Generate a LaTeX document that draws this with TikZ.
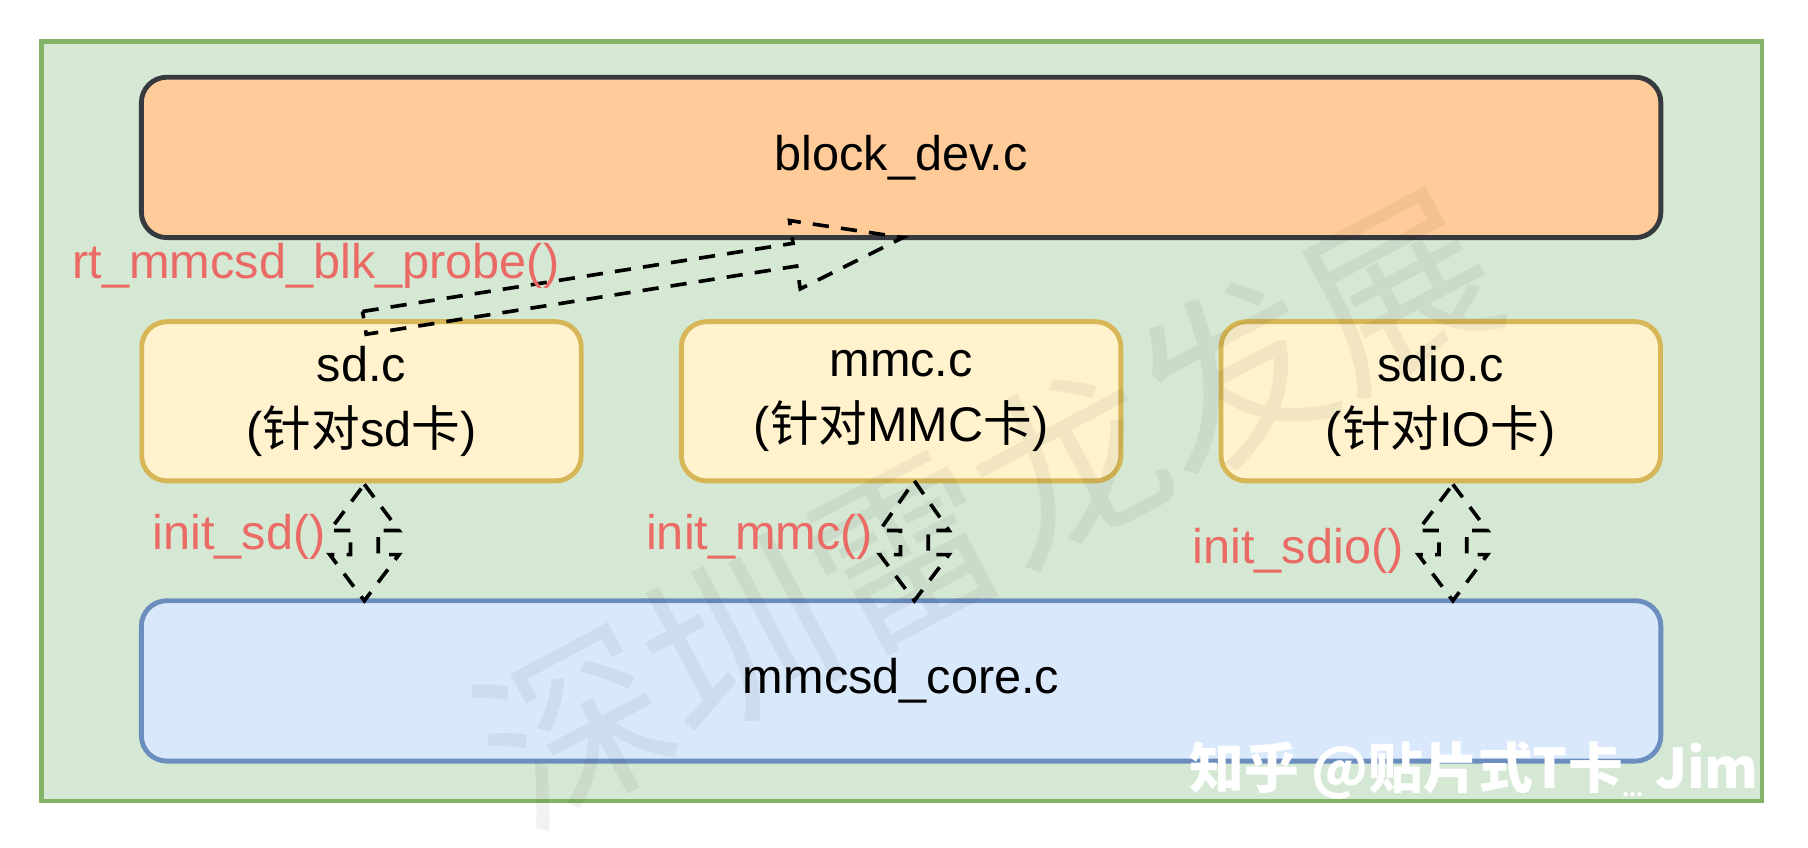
\documentclass[tikz,border=0pt]{standalone}
\usepackage{fontspec}
\setmainfont{Liberation Sans}
\newfontfamily\cjk{Noto Sans CJK SC}
\usetikzlibrary{positioning}
\definecolor{bggreen}{HTML}{D5E8D4}
\definecolor{lngreen}{HTML}{82B366}
\definecolor{orange1}{HTML}{FFCC99}
\definecolor{dark1}{HTML}{36393D}
\definecolor{yel1}{HTML}{FFF2CC}
\definecolor{yel2}{HTML}{D6B656}
\definecolor{blue1}{HTML}{DAE8FC}
\definecolor{blue2}{HTML}{6C8EBF}
\definecolor{red1}{HTML}{EA6B66}
\tikzset{
  box/.style={rectangle,rounded corners=2.2mm,line width=1.2pt,inner sep=0pt,
    font=\fontsize{12}{16}\selectfont,align=center},
  lbl/.style={text=red1,font=\fontsize{12}{14}\selectfont,inner sep=0pt},
  dashline/.style={line width=0.9pt,dash pattern=on 4pt off 3pt}
}
\begin{document}
\begin{tikzpicture}[x=0.01cm,y=-0.01cm]
\useasboundingbox (0,0) rectangle (1568,735);
\fill[white] (0,0) rectangle (1568,735);
%
\draw[fill=bggreen,draw=lngreen,line width=1pt] (36,36) rectangle (1528,695);
%
\node[box,fill=orange1,draw=dark1,minimum width=13.17cm,minimum height=1.39cm] (blk) at (781.5,136.5) {block\_dev.c};
\node[box,fill=yel1,draw=yel2,minimum width=3.81cm,minimum height=1.38cm] (sd) at (313.5,348) {sd.c\\({\cjk 针对}sd{\cjk 卡})};
\node[box,fill=yel1,draw=yel2,minimum width=3.81cm,minimum height=1.38cm] (mmc) at (781.5,348) {mmc.c\\({\cjk 针对}MMC{\cjk 卡})};
\node[box,fill=yel1,draw=yel2,minimum width=3.81cm,minimum height=1.38cm] (sdio) at (1249.5,348) {sdio.c\\({\cjk 针对}IO{\cjk 卡})};
\node[box,fill=blue1,draw=blue2,minimum width=13.17cm,minimum height=1.39cm] (core) at (781.5,590.5) {mmcsd\_core.c};
%
% watermark
\node[text=black,opacity=0.05,font=\cjk\fontsize{46}{46}\selectfont,rotate=28] (wm) at (855,440) {深圳雷龙发展};
\node[text=white,font=\cjk\bfseries\fontsize{13.5}{14}\selectfont,anchor=east,inner sep=0pt] (zh) at (1526,668) {知乎 @贴片式T卡\rlap{\raisebox{-2pt}{\tiny ...}}\hspace{8pt}Jim};
%
% probe arrow
\begin{scope}[shift={(316,280)},rotate=9]
\draw[dashline] (0,-10) -- (378,-10) -- (378,-30) -- (473,0) -- (378,30) -- (378,10) -- (0,10) -- cycle;
\end{scope}
\node[lbl] (probe) at (274,231) {rt\_mmcsd\_blk\_probe()};
%
% init arrows
\foreach \x/\ya in {316/420,793/417,1260/420}{
\draw[dashline] (\x,\ya) -- (\x+30,460) -- (\x+12,460) -- (\x+12,481) -- (\x+30,481) -- (\x,521)
  -- (\x-30,481) -- (\x-12,481) -- (\x-12,460) -- (\x-30,460) -- cycle;
}
\node[lbl,anchor=east] (isd) at (283,466) {init\_sd()};
\node[lbl,anchor=east] (immc) at (758,466) {init\_mmc()};
\node[lbl,anchor=east] (isdio) at (1218,478) {init\_sdio()};
\end{tikzpicture}
\end{document}
